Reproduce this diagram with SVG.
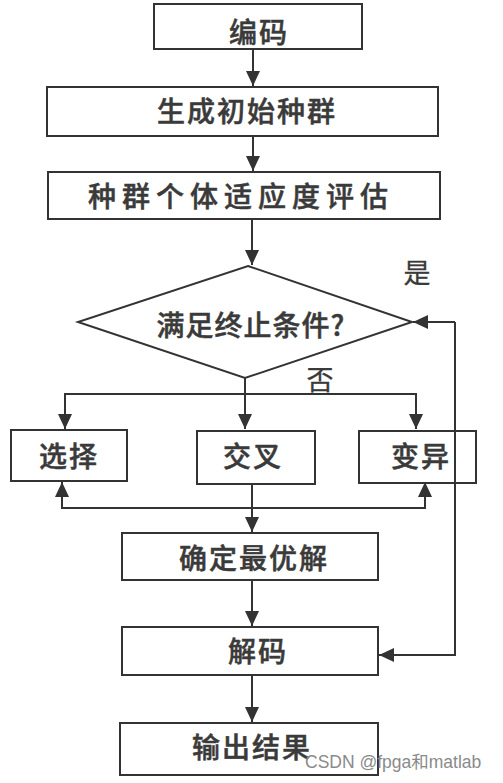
<svg xmlns="http://www.w3.org/2000/svg" width="503" height="783" viewBox="0 0 503 783">
<style>
.box{fill:#fff;stroke:#333;stroke-width:2}
.ln{fill:none;stroke:#333;stroke-width:2}
.t{font-family:"Noto Sans CJK SC","Noto Sans CJK JP",sans-serif;font-size:28px;font-weight:500;fill:#3a3a3a;stroke:#3a3a3a;stroke-width:0.5;text-anchor:middle;dominant-baseline:central}
.lb{font-family:"Noto Sans CJK SC","Noto Sans CJK JP",sans-serif;font-size:27px;font-weight:400;fill:#3a3a3a;stroke:#3a3a3a;stroke-width:0.3;text-anchor:middle;dominant-baseline:central}
.wm{font-family:"Liberation Sans","Noto Sans CJK SC",sans-serif;font-size:17.5px;fill:#8a8a8a}
</style>
<defs>
<marker id="ah" markerUnits="userSpaceOnUse" markerWidth="16" markerHeight="14" refX="15" refY="7" orient="auto">
<path d="M0,0 L15,7 L0,14 z" fill="#333"/>
</marker>
</defs>
<rect width="503" height="783" fill="#fff"/>
<g id="connectors">
<path class="ln" d="M253,49 V86" marker-end="url(#ah)"/>
<path class="ln" d="M253,136 V171" marker-end="url(#ah)"/>
<path class="ln" d="M252,219 V265" marker-end="url(#ah)"/>
<path class="ln" d="M245,378 V394"/>
<path class="ln" d="M65,429 V394 H416 V429"/>
<path class="ln" d="M65,394 V429" marker-end="url(#ah)"/>
<path class="ln" d="M245,394 V429" marker-end="url(#ah)"/>
<path class="ln" d="M416,394 V429" marker-end="url(#ah)"/>
<path class="ln" d="M62,482 V508 H425 V482"/>
<path class="ln" d="M62,508 V482" marker-end="url(#ah)"/>
<path class="ln" d="M425,508 V482" marker-end="url(#ah)"/>
<path class="ln" d="M252,484 V532" marker-end="url(#ah)"/>
<path class="ln" d="M252,580 V626" marker-end="url(#ah)"/>
<path class="ln" d="M252,675 V722" marker-end="url(#ah)"/>
<path class="ln" d="M455,322 V655 H379" marker-end="url(#ah)"/>
<path class="ln" d="M455,322 H413" marker-end="url(#ah)"/>
</g>
<g id="n1"><rect class="box" x="154" y="4" width="208" height="45"/><text class="t" x="259" y="31" letter-spacing="2">编码</text></g>
<g id="n2"><rect class="box" x="47" y="87" width="391" height="49"/><text class="t" x="247" y="110" letter-spacing="2">生成初始种群</text></g>
<g id="n3"><rect class="box" x="48" y="172" width="392" height="47"/><text class="t" x="241" y="195" letter-spacing="6">种群个体适应度评估</text></g>
<g id="n4"><polygon class="box" points="248,266 412,322 245,378 78,322"/><text class="t" x="251" y="324" font-size="27" letter-spacing="1">满足终止条件?</text>
<text class="lb" x="417" y="271">是</text><text class="lb" x="320" y="378">否</text></g>
<g id="n5"><rect class="box" x="11" y="430" width="116" height="51"/><text class="t" x="69" y="455" letter-spacing="2">选择</text></g>
<g id="n6"><rect class="box" x="197" y="431" width="118" height="53"/><text class="t" x="253" y="455" letter-spacing="2">交叉</text></g>
<g id="n7"><rect class="box" x="359" y="431" width="117" height="52"/><text class="t" x="421" y="455" letter-spacing="2">变异</text></g>
<path class="ln" d="M455,431 V483"/>
<g id="n8"><rect class="box" x="122" y="533" width="256" height="47"/><text class="t" x="254" y="557" letter-spacing="2">确定最优解</text></g>
<g id="n9"><rect class="box" x="122" y="627" width="256" height="48"/><text class="t" x="258" y="650" letter-spacing="2">解码</text></g>
<g id="n10"><rect class="box" x="120" y="723" width="258" height="52"/><text class="t" x="252" y="746" letter-spacing="2">输出结果</text></g>
<text class="wm" x="305" y="768">CSDN @fpga和matlab</text>
</svg>
